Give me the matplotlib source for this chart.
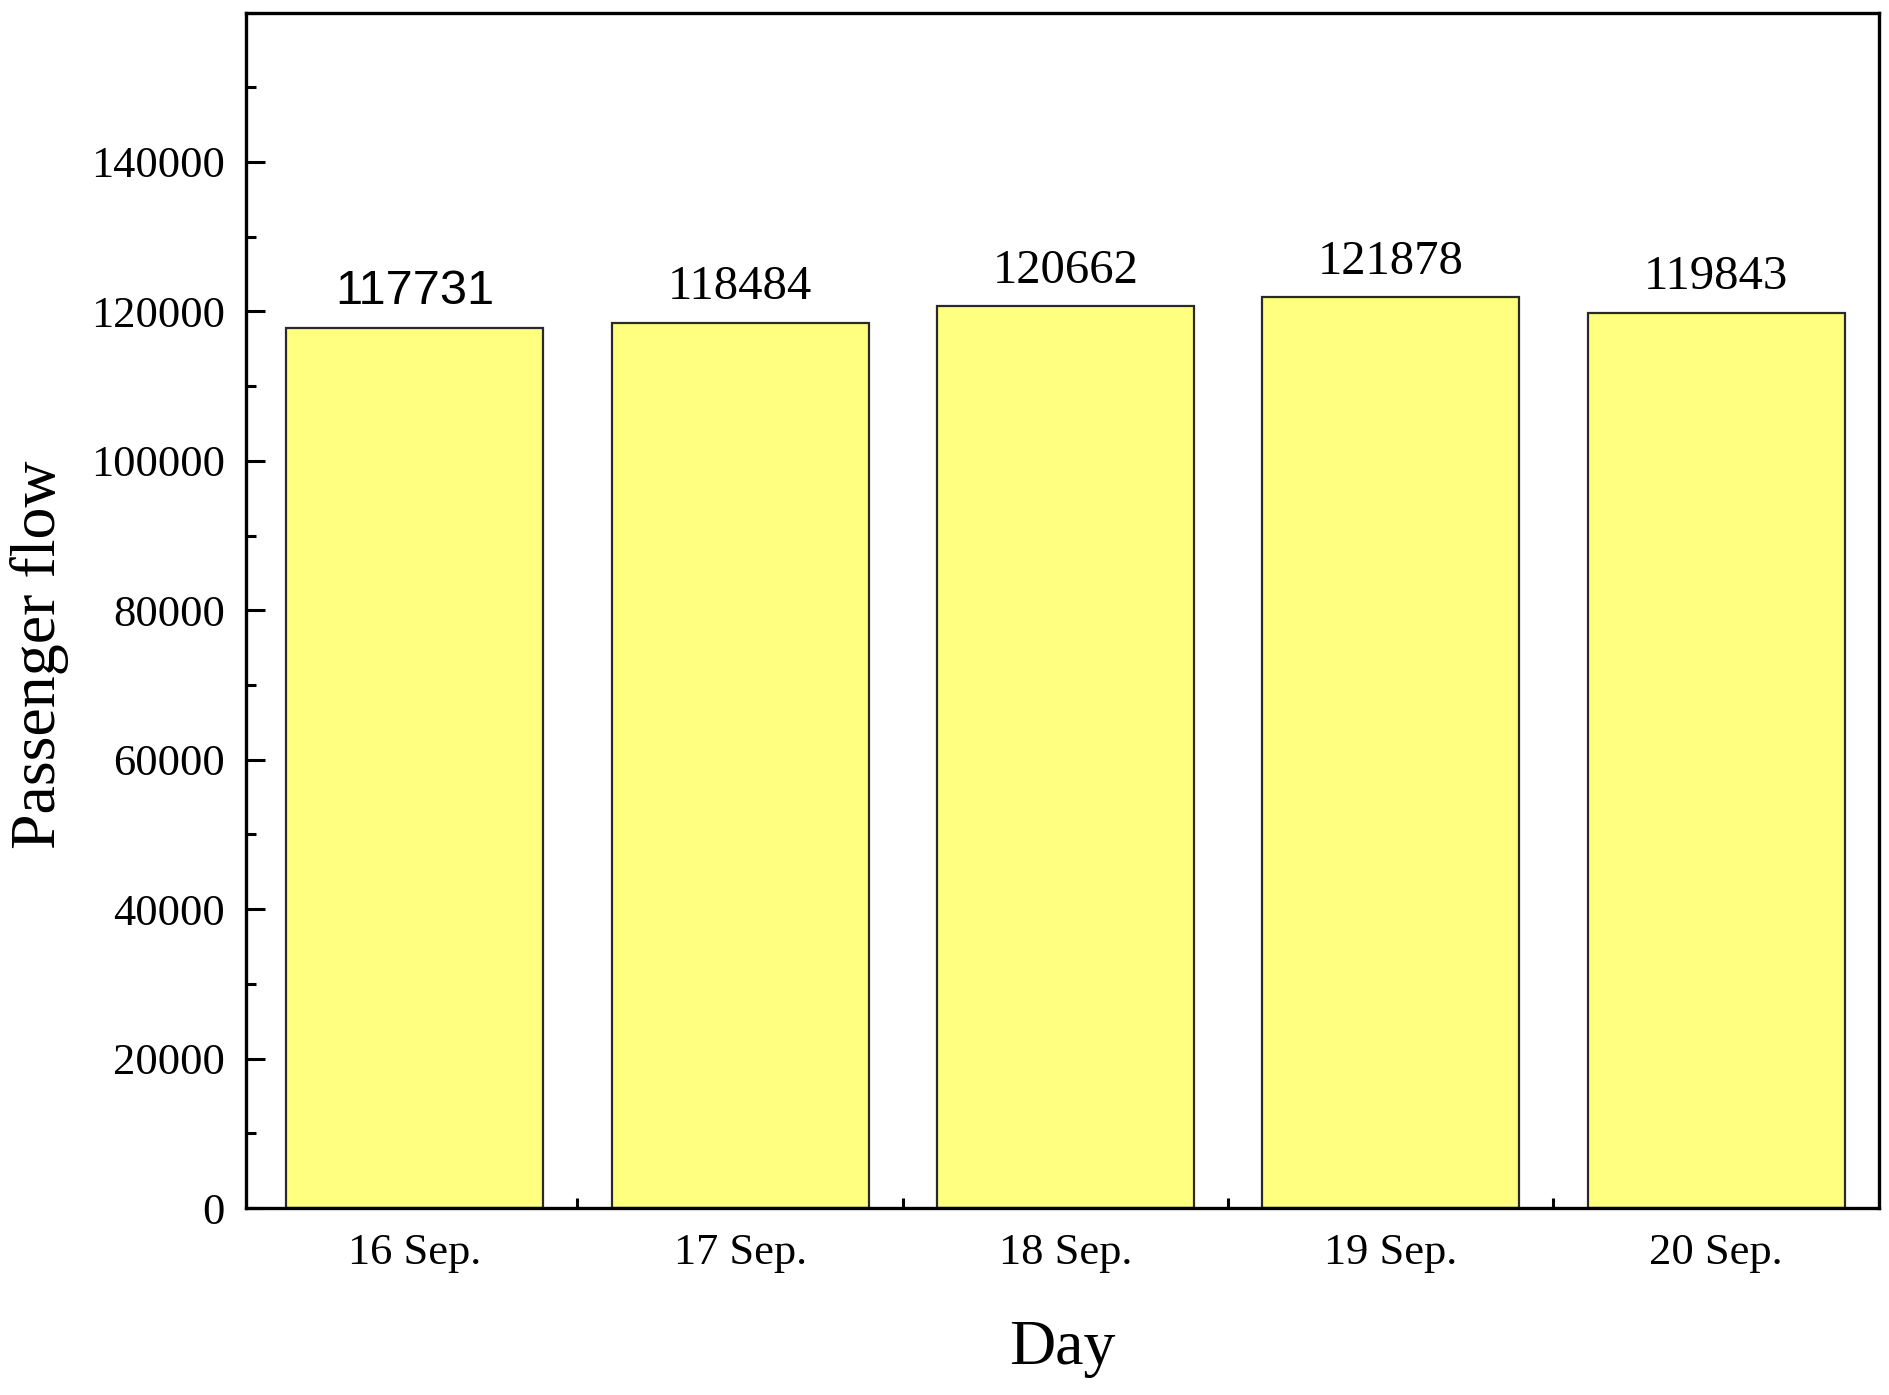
import matplotlib.pyplot as plt
from matplotlib.ticker import MultipleLocator, FixedLocator

# data
days = ["16 Sep.", "17 Sep.", "18 Sep.", "19 Sep.", "20 Sep."]
passenger_flow = [117731, 118484, 120662, 121878, 119843]

plt.rcParams['font.family'] = ['Liberation Serif', 'DejaVu Serif']

fig = plt.figure(figsize=(18.9, 13.95), dpi=100)
ax = fig.add_axes([0.130, 0.134, 0.864, 0.857])

x = list(range(len(days)))
bars = ax.bar(x, passenger_flow, width=0.79, color='#FFFF80', edgecolor='#2a2a2a', linewidth=1.6, zorder=2)

# value labels over the bars (the first one is in a sans font in the original)
for i, (xi, v) in enumerate(zip(x, passenger_flow)):
    if i == 0:
        ax.annotate(str(v), (xi, v), xytext=(0, 10), textcoords='offset points',
                    ha='center', va='bottom', fontsize=35, family='Liberation Sans')
    else:
        ax.annotate(str(v), (xi, v), xytext=(0, 10), textcoords='offset points',
                    ha='center', va='bottom', fontsize=35)

ax.set_xlim(-0.52, 4.5)
ax.set_ylim(0, 160000)
ax.set_xticks(x)
ax.set_xticklabels(days)
ax.xaxis.set_minor_locator(FixedLocator([0.5, 1.5, 2.5, 3.5]))
ax.yaxis.set_major_locator(MultipleLocator(20000))
ax.yaxis.set_minor_locator(MultipleLocator(10000))
ax.set_yticks(range(0, 160000, 20000))

ax.tick_params(axis='both', which='major', direction='in', length=14, width=2.2, labelsize=32)
ax.tick_params(axis='x', which='major', pad=18)
ax.tick_params(axis='y', which='major', pad=15)
ax.tick_params(axis='both', which='minor', direction='in', length=7, width=2.2)
ax.tick_params(top=False, right=False, which='both')

for sp in ax.spines.values():
    sp.set_linewidth(2.4)
    sp.set_zorder(3)

ax.set_xlabel("Day", fontsize=46)
ax.set_ylabel("Passenger flow", fontsize=46)
ax.xaxis.set_label_coords(0.5, -0.094)
ax.yaxis.set_label_coords(-0.108, 0.463)

fig.savefig("out.png", dpi=100)
